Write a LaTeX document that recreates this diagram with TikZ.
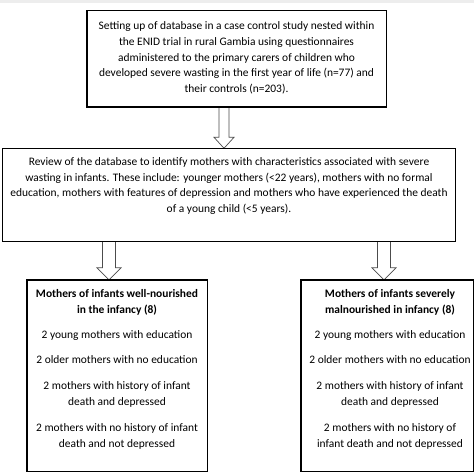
\documentclass[tikz,border=0pt]{standalone}
\usepackage{fontspec}
\setmainfont{Carlito}
\usetikzlibrary{calc}
\newcommand\bArrow[5]{% #1 start, #2 tip, #3 shaft half width, #4 head half width, #5 head length
  \draw[blockarrow] ($(#1)+(-#3,0)$) -- ($(#2)+(-#3,-#5)$) -- ($(#2)+(-#4,-#5)$) -- (#2)
    -- ($(#2)+(#4,-#5)$) -- ($(#2)+(#3,-#5)$) -- ($(#1)+(#3,0)$);}
\begin{document}
\begin{tikzpicture}[x=1bp,y=-1bp,
  box/.style={draw=black, line width=1.4bp, inner sep=0pt},
  txt/.style={align=center, inner sep=0pt, font=\fontsize{11.5}{15.8}\selectfont},
  ltxtst/.style={align=center, inner sep=0pt, font=\fontsize{11.5}{16.5}\selectfont},
  blockarrow/.style={draw=black!70, line width=0.7bp, fill=white}]
\useasboundingbox (0,0) rectangle (474,474);
\fill[white] (0,0) rectangle (474,474);
\fill[black!7] (0,0) rectangle (474,3);
% boxes (as nodes, drawn later on top of the arrows)
\path (236.5,59) node[minimum width=299bp, minimum height=96bp] (top) {};
\path (229,195) node[minimum width=452bp, minimum height=93bp] (mid) {};
\path (117,375.5) node[minimum width=180bp, minimum height=191bp] (lbox) {};
\path (387,375.5) node[minimum width=172bp, minimum height=191bp] (rbox) {};
\coordinate (ax) at (224,0);
\coordinate (lx) at (109,0);
\coordinate (rx) at (384,0);
% arrows
\bArrow{top.south -| ax}{mid.north -| ax}{5}{10}{11}
\bArrow{mid.south -| lx}{lbox.north -| lx}{6.5}{12}{12}
\bArrow{mid.south -| rx}{rbox.north -| rx}{6.5}{12}{12}
% box outlines
\draw[box] (top.south west) rectangle (top.north east);
\draw[box] (mid.south west) rectangle (mid.north east);
\draw[box] (lbox.south west) rectangle (lbox.north east);
\draw[box] (rbox.south west) rectangle (rbox.north east);
% texts
\node[txt] (toptxt) at ($(top.center)+(0,-1)$) {Setting up of database in a case control study nested within\\
the ENID trial in rural Gambia using questionnaires\\
administered to the primary carers of children who\\
developed severe wasting in the first year of life (n=77) and\\
their controls (n=203).};
\node[txt, anchor=north] (midtxt) at ($(mid.north)+(0,9)$) {Review of the database to identify mothers with characteristics associated with severe\\
wasting in infants. These include: younger mothers (<22 years), mothers with no formal\\
education, mothers with features of depression and mothers who have experienced the death\\
of a young child (<5 years).};
\node[ltxtst, anchor=north] (ltxt) at ($(lbox.north)+(0,9)$) {\textbf{Mothers of infants well-nourished}\\
\textbf{in the infancy (8)}\\[8.5bp]
2 young mothers with education\\[9bp]
2 older mothers with no education\\[9bp]
2 mothers with history of infant\\
death and depressed\\[9bp]
2 mothers with no history of infant\\
death and not depressed};
\node[ltxtst, anchor=north] (rtxt) at ($(rbox.north)+(3,9)$) {\textbf{Mothers of infants severely}\\
\textbf{malnourished in infancy (8)}\\[8.5bp]
2 young mothers with education\\[9bp]
2 older mothers with no education\\[9bp]
2 mothers with history of infant\\
death and depressed\\[9bp]
2 mothers with no history of\\
infant death and not depressed};
\end{tikzpicture}
\end{document}
